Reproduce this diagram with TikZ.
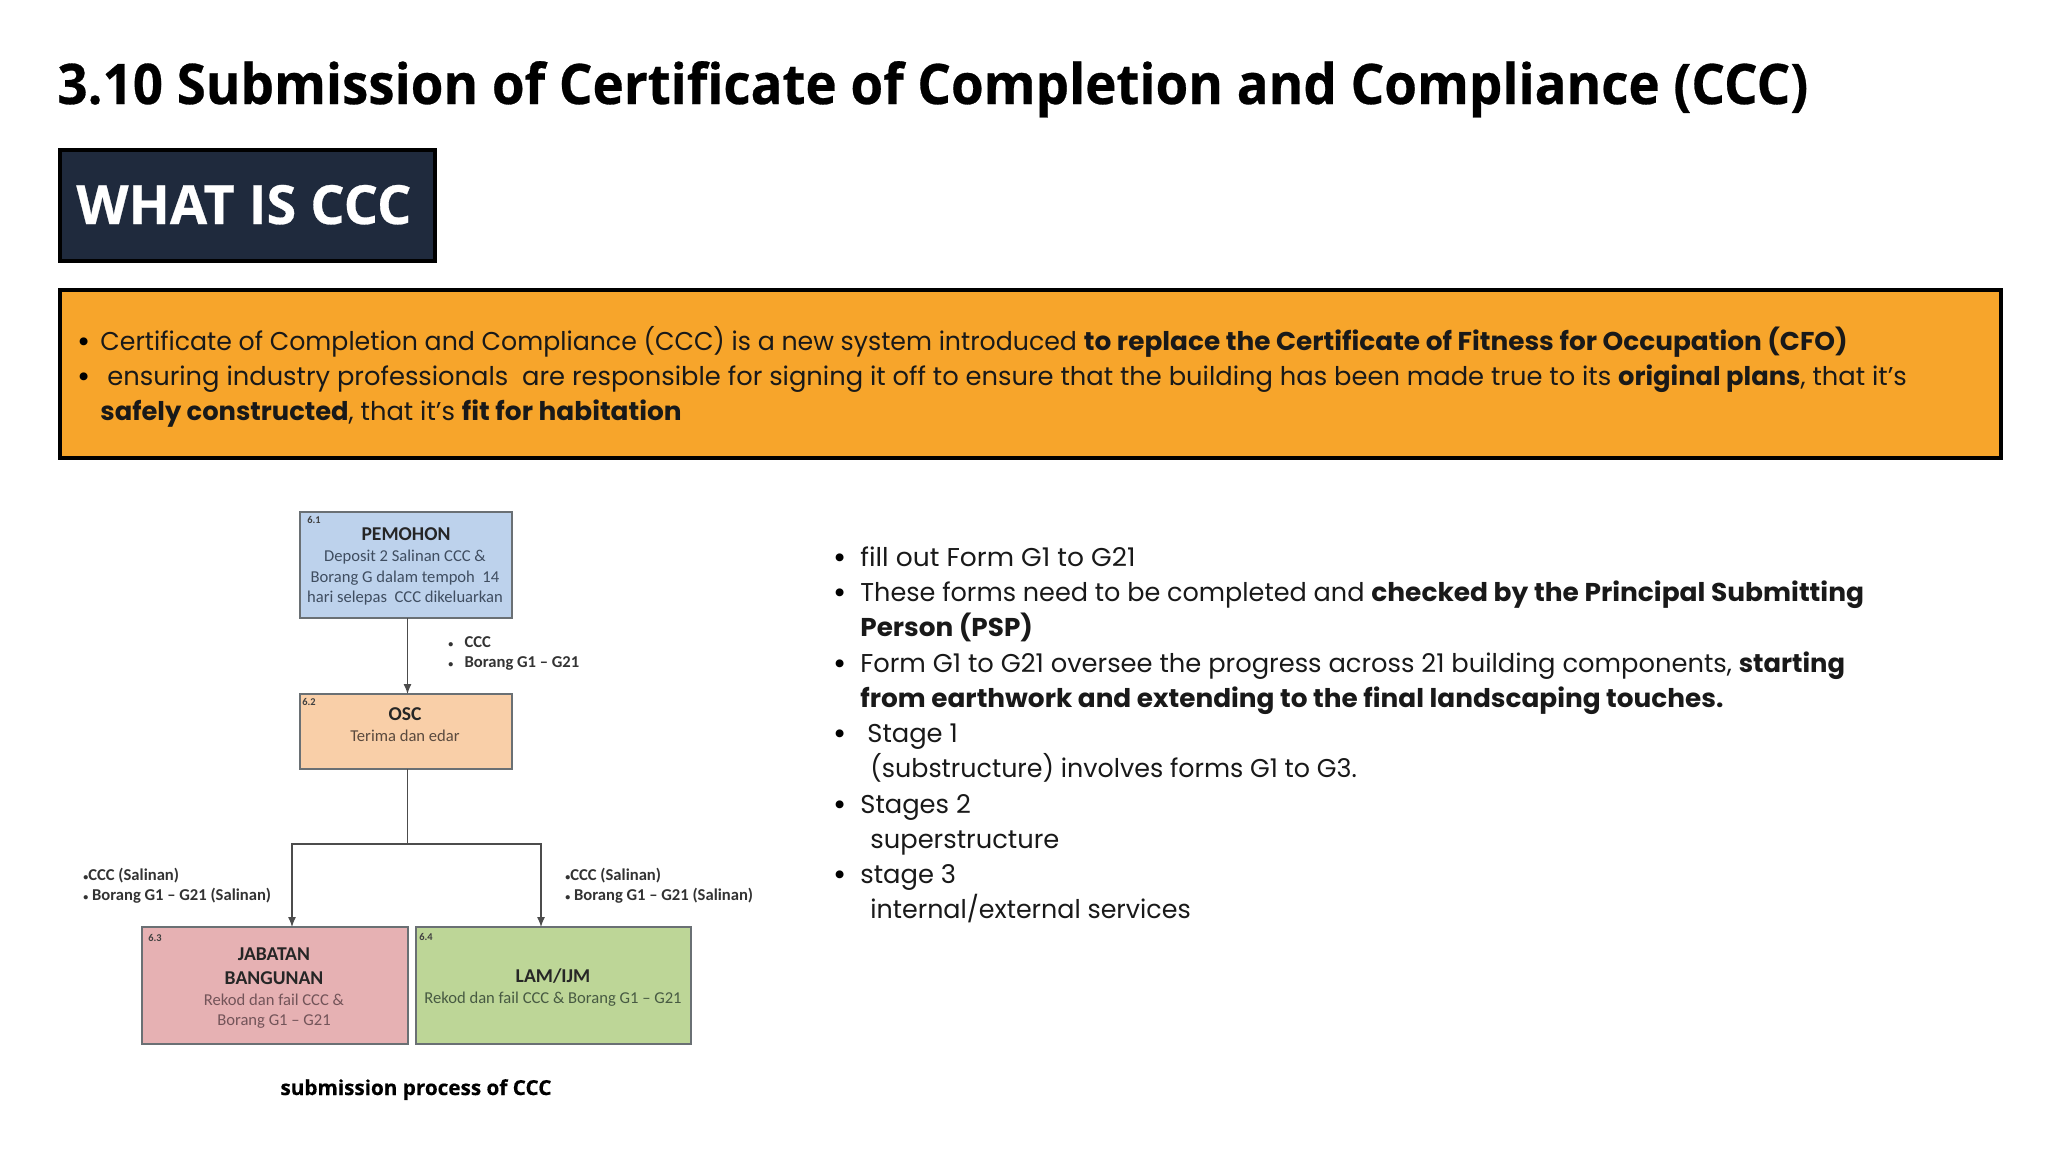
\documentclass[tikz,border=0pt]{standalone}
\usepackage{fontspec}
\usepackage{graphicx}
\setmainfont{Poppins}
\newfontfamily\titlef[BoldFeatures={FakeBold=0.5}]{Open Sans}
\newfontfamily\boxf{Carlito}
\definecolor{navy}{HTML}{1F2A3D}
\definecolor{amber}{HTML}{F7A52B}
\definecolor{bluebox}{HTML}{BDD2EC}
\definecolor{peach}{HTML}{F9CFA8}
\definecolor{rosebox}{HTML}{E6B1B3}
\definecolor{greenbox}{HTML}{BDD697}
\definecolor{edgeg}{HTML}{6A7074}
\definecolor{tblue}{HTML}{3F4D60}
\definecolor{tpeach}{HTML}{5A4A3E}
\definecolor{trose}{HTML}{735459}
\definecolor{tgreen}{HTML}{475A42}
\newcommand{\dotb}{\scalebox{0.6}{•}}
\newcommand{\fitw}[2]{\scalebox{#1}[1]{#2}}
\tikzset{x=0.5pt,y=-0.5pt,
 body/.style={anchor=base west,inner sep=0pt,font=\fontsize{12.88}{16}\selectfont,text=black!90},
 bull/.style={anchor=base west,inner sep=0pt,font=\fontsize{16}{16}\selectfont,text=black},
 flow/.style={draw=edgeg,line width=0.9pt,inner sep=0pt,anchor=north west},
 num/.style={anchor=north west,inner sep=0pt,font=\boxf\bfseries\fontsize{5.2}{6}\selectfont,text=black!75},
 lab/.style={anchor=base,inner sep=0pt,font=\boxf\fontsize{8.3}{10}\selectfont},
 head/.style={anchor=base,inner sep=0pt,font=\boxf\bfseries\fontsize{9.8}{12}\selectfont,text=black!85},
 side/.style={anchor=base west,inner sep=0pt,font=\boxf\bfseries\fontsize{8.3}{10}\selectfont,text=black!80},
 conn/.style={draw=black!70,line width=0.65pt},
 tip/.style={-{Latex[length=5pt,width=4pt]}}}
\usetikzlibrary{arrows.meta}
\begin{document}
\begin{tikzpicture}
\useasboundingbox (0,0) rectangle (2048,1152);
\fill[white] (0,0) rectangle (2048,1152);
\node[anchor=base west,inner sep=0pt,font=\titlef\bfseries\fontsize{28}{32}\selectfont] (title) at (57,104) {\scalebox{0.944}[1]{3.10 Submission of Certificate of Completion and Compliance (CCC)}};
\node[draw=black,fill=navy,line width=2.2pt,minimum width=375pt/2,minimum height=111pt/2,anchor=north west,inner sep=0pt] (what) at (58,148) {};
\node[anchor=base west,inner sep=0pt,text=white,font=\titlef\bfseries\fontsize{27}{30}\selectfont] (whatt) at (76,224) {WHAT IS CCC};
\node[draw=black,fill=amber,line width=2.2pt,minimum width=1941pt/2,minimum height=168pt/2,anchor=north west,inner sep=0pt] (orange) at (58,288) {};
\node[bull] (b1) at (77,352) {•};
\node[body] (l1) at (100,350) {\fitw{0.979}{Certificate of Completion and Compliance (CCC) is a new system introduced} \fitw{1.023}{\textbf{to replace the Certificate of Fitness for Occupation (CFO)}}};
\node[bull] (b2) at (77,387) {•};
\node[body] (l2) at (107,385) {ensuring industry professionals\ \ are responsible for signing it off to ensure that the building has been made true to its \textbf{original plans}, that it’s};
\node[body] (l3) at (100,420) {\textbf{safely constructed}, that it’s \fitw{1.024}{\textbf{fit for habitation}}};
% flow chart
\node[flow,fill=bluebox,minimum width=106pt,minimum height=53pt] (p) at (299,511) {};
\node[flow,fill=peach,minimum width=106pt,minimum height=37.5pt] (o) at (299,693) {};
\node[flow,fill=rosebox,minimum width=133pt,minimum height=58.5pt] (j) at (141,926) {};
\node[flow,fill=greenbox,minimum width=137.5pt,minimum height=58.5pt] (m) at (415,926) {};
\node[num] (n1) at (307,516) {6.1};
\node[num] (n2) at (302,698) {6.2};
\node[num] (n3) at (148,934) {6.3};
\node[num] (n4) at (419,933) {6.4};
\node[head] (h1) at (406,540) {PEMOHON};
\node[lab,text=tblue] (t11) at (405,561) {Deposit 2 Salinan CCC \&};
\node[lab,text=tblue] (t12) at (405,582) {Borang G dalam tempoh\ \ 14};
\node[lab,text=tblue] (t13) at (405,602) {hari selepas\ \ CCC dikeluarkan};
\node[head] (h2) at (405,720) {OSC};
\node[lab,text=tpeach] (t21) at (405,741) {Terima dan edar};
\node[head] (h31) at (274,960) {JABATAN};
\node[head] (h32) at (274,984) {BANGUNAN};
\node[lab,text=trose] (t31) at (274,1005) {Rekod dan fail CCC \&};
\node[lab,text=trose] (t32) at (274,1025) {Borang G1 – G21};
\node[head] (h4) at (553,982) {LAM/IJM};
\node[lab,text=tgreen] (t41) at (553,1003) {Rekod dan fail CCC \& Borang G1 – G21};
\coordinate (ptop) at (407.5,618);
\coordinate (otop) at (407.5,694);
\coordinate (obot) at (407.5,769);
\coordinate (fork) at (407.5,844);
\coordinate (fl) at (292,844);
\coordinate (fr) at (541,844);
\coordinate (jt) at (292,927);
\coordinate (mt) at (541,927);
\draw[conn,tip] (ptop) -- (otop);
\draw[conn] (obot) -- (fork);
\draw[conn,tip] (fork) -- (fl) -- (jt);
\draw[conn,tip] (fork) -- (fr) -- (mt);
\node[side] (s11) at (448,647) {\dotb\ \ \ CCC};
\node[side] (s12) at (448,667) {\dotb\ \ \ Borang G1 – G21};
\node[side] (s21) at (83,880) {\dotb CCC (Salinan)};
\node[side] (s22) at (83,900) {\dotb\ Borang G1 – G21 (Salinan)};
\node[side] (s31) at (565,880) {\dotb CCC (Salinan)};
\node[side] (s32) at (565,900) {\dotb\ Borang G1 – G21 (Salinan)};
\node[anchor=base,inner sep=0pt,font=\titlef\bfseries\fontsize{10.35}{12}\selectfont] (cap) at (416,1095) {submission process of CCC};
% right list
\node[bull] (r1b) at (833,568) {•};
\node[body] (r1) at (860,566) {\fitw{1.03}{fill out Form G1 to G21}};
\node[bull] (r2b) at (833,603) {•};
\node[body] (r2) at (860,601) {\fitw{0.99}{These forms need to be completed and} \fitw{1.027}{\textbf{checked by the Principal Submitting}}};
\node[body] (r3) at (860,636) {\fitw{1.02}{\textbf{Person (PSP)}}};
\node[bull] (r4b) at (833,674) {•};
\node[body] (r4) at (860,672) {Form G1 to G21 oversee the progress across 21 building components, \textbf{starting}};
\node[body] (r5) at (860,707) {\fitw{1.022}{\textbf{from earthwork and extending to the final landscaping touches.}}};
\node[bull] (r6b) at (833,744) {•};
\node[body] (r6) at (867,742) {Stage 1};
\node[body] (r7) at (870,777) {\fitw{0.984}{(substructure) involves forms G1 to G3.}};
\node[bull] (r8b) at (833,815) {•};
\node[body] (r8) at (860,813) {Stages 2};
\node[body] (r9) at (870,848) {superstructure};
\node[bull] (r10b) at (833,885) {•};
\node[body] (r10) at (860,883) {stage 3};
\node[body] (r11) at (870,918) {\fitw{0.984}{internal/external services}};
\end{tikzpicture}
\end{document}
